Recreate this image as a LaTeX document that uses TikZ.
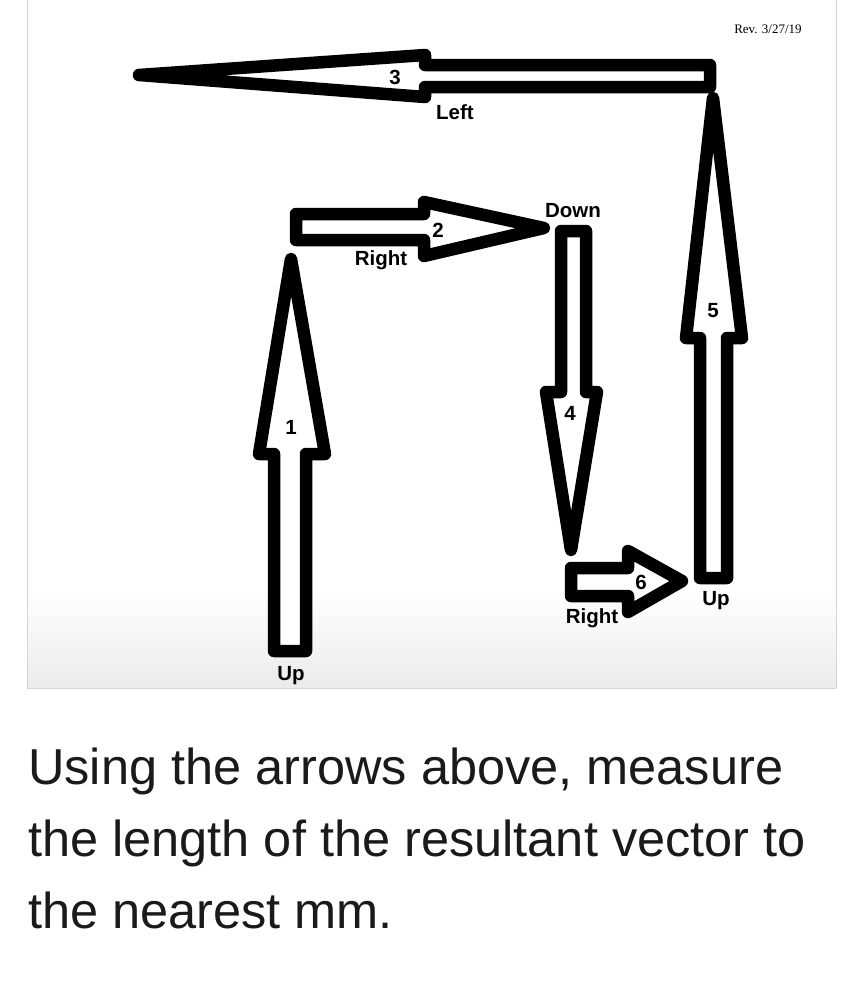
\documentclass[tikz,border=0pt]{standalone}
\usepackage{fontspec}
\setmainfont{Liberation Sans}
\newfontfamily\revfont{Liberation Serif}
\definecolor{panelgray}{HTML}{EBEBEB}
\definecolor{edgegray}{HTML}{D4D4D4}
\definecolor{textdark}{HTML}{1A1A1A}
\begin{document}
\begin{tikzpicture}[x=1pt,y=-1pt,
  arrowshape/.style={draw=black,fill=white,line width=12.5pt,line join=round},
  lbl/.style={font=\bfseries\fontsize{20.5}{20.5}\selectfont,inner sep=0pt,text=black},
  para/.style={font=\fontsize{50.5}{60}\selectfont,inner sep=0pt,anchor=base west,text=textdark}]
\useasboundingbox (0,0) rectangle (864,1002);
\fill[white] (0,0) rectangle (864,1002);
% panel
\shade[top color=white,bottom color=panelgray] (27,590) rectangle (836,688);
\draw[edgegray,line width=1pt] (27,0) -- (27,688);
\draw[edgegray,line width=1pt] (836,0) -- (836,688);
\draw[panelgray!80!gray,line width=0.6pt] (27,688) -- (836,688);
\node[font=\revfont\fontsize{13}{13}\selectfont,inner sep=0pt] (rev) at (768,29) {Rev. 3/27/19};
% arrow 3 (left)
\draw[arrowshape] (710,65) -- (425,65) -- (425,55) -- (139,75) -- (425,97) -- (425,87) -- (710,87) -- cycle;
% arrow 5 (up)
\draw[arrowshape] (700,578) -- (700,338) -- (686,338) -- (713,98) -- (742,338) -- (727,338) -- (727,578) -- cycle;
% arrow 1 (up)
\draw[arrowshape] (274,651) -- (274,454) -- (259,454) -- (291,259) -- (325,454) -- (306,454) -- (306,651) -- cycle;
% arrow 2 (right)
\draw[arrowshape] (296,214) -- (424,214) -- (424,202) -- (544,228) -- (424,256) -- (424,240) -- (296,240) -- cycle;
% arrow 4 (down)
\draw[arrowshape] (561,231) -- (586,231) -- (586,392) -- (597,392) -- (571,550) -- (546,392) -- (561,392) -- cycle;
% arrow 6 (right)
\draw[arrowshape] (571,568) -- (628,568) -- (628,551) -- (682,581) -- (628,612) -- (628,596) -- (571,596) -- cycle;
% labels
\node[lbl] (n3) at (395,77) {3};
\node[lbl] (left) at (455,112) {Left};
\node[lbl] (n2) at (438,230) {2};
\node[lbl] (right1) at (381,260) {Right};
\node[lbl] (down) at (573,211) {Down};
\node[lbl] (n1) at (291,427) {1};
\node[lbl] (n4) at (570,413) {4};
\node[lbl] (n5) at (713,311) {5};
\node[lbl] (n6) at (641,582) {6};
\node[lbl] (right2) at (592,618) {Right};
\node[lbl] (up2) at (716,601) {Up};
\node[lbl] (up1) at (291,676) {Up};
% question text
\node[para] (q1) at (28,784) {Using the arrows above, measure};
\node[para] (q2) at (28,856) {the length of the resultant vector to};
\node[para] (q3) at (28,928) {the nearest mm.};
\end{tikzpicture}
\end{document}
